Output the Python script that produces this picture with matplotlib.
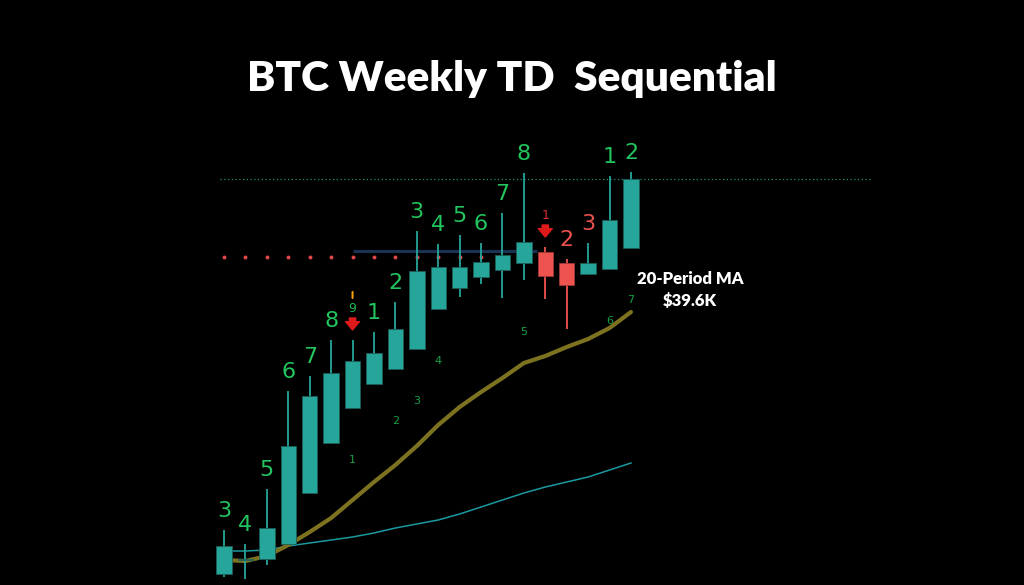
import numpy as np
import matplotlib
matplotlib.use("Agg")
import matplotlib.pyplot as plt

# weekly candles, prices in $K
opens  = [26.5, 27.2, 27.25, 28.0, 30.55, 33.05, 34.8, 36.0, 36.75, 37.75,
          39.75, 40.8, 41.35, 41.7, 42.05, 42.6, 42.05, 41.5, 41.75, 42.8]
highs  = [28.7, 28.0, 30.75, 35.65, 36.4, 38.2, 38.2, 38.6, 40.1, 43.65,
          43.0, 43.45, 43.05, 44.55, 46.55, 42.85, 42.25, 43.05, 46.4, 46.6]
lows   = [26.35, 26.25, 26.95, 28.0, 30.55, 33.05, 34.8, 36.0, 36.75, 37.75,
          39.75, 40.35, 41.0, 40.3, 41.2, 40.25, 38.75, 41.45, 41.75, 42.8]
closes = [27.9, 27.25, 28.8, 32.9, 35.4, 36.55, 37.15, 37.55, 38.75, 41.65,
          41.85, 41.85, 42.1, 42.45, 43.1, 41.4, 40.95, 42.05, 44.2, 46.25]

ma20 = [27.2, 27.15, 27.4, 27.95, 28.6, 29.3, 30.2, 31.1, 31.95, 32.9,
        33.95, 34.85, 35.6, 36.3, 37.05, 37.4, 37.85, 38.25, 38.8, 39.6]
ma50 = [27.65, 27.65, 27.7, 27.9, 28.05, 28.2, 28.35, 28.55, 28.8, 29.0,
        29.2, 29.5, 29.85, 30.2, 30.55, 30.85, 31.1, 31.35, 31.7, 32.05]

# TD setup counts above the bars
setup_labels = ['3', '4', '5', '6', '7', '8', '9', '1', '2', '3',
                '4', '5', '6', '7', '8', '1', '2', '3', '1', '2']
setup_side = ['buy'] * 15 + ['sell'] * 3 + ['buy'] * 2
perfect_idx = [6, 15]        # small label + arrow
# TD countdown below the bars
countdown_idx = [6, 8, 9, 10, 14, 18, 19]
countdown_lbl = ['1', '2', '3', '4', '5', '6', '7']

tdst_red = 42.35            # red dotted level
tdst_red_range = (0, 12)
tdst_blue = 42.65
tdst_blue_range = (6, 14.6)
top_level = 46.25
top_range = (-0.2, 30.2)

ma_note = ['20-Period MA', '$39.6K']

teal = '#26a69a'
red = '#ef5350'
green = '#22c55e'

fig = plt.figure(figsize=(10.24, 5.85), dpi=100, facecolor='black')
ax = fig.add_axes([0, 0, 1, 1])
ax.set_facecolor('black')
ax.set_axis_off()

x = np.arange(len(opens))
ax.set_xlim(-10.46, 37.35)
# y pixel -> price: price = 55.2 - y/20
ax.set_ylim(55.2 - 585 / 20, 55.2)

ax.hlines(top_level, *top_range, colors='#1f8a78', linestyles=(0, (1, 2)), lw=0.9)
ax.hlines(tdst_blue, *tdst_blue_range, colors='#1b3352', lw=2.2, zorder=1)
ax.scatter(np.arange(tdst_red_range[0], tdst_red_range[1] + 1),
           [tdst_red] * (tdst_red_range[1] - tdst_red_range[0] + 1),
           s=8, color='#e04848', lw=0, zorder=1)

ax.plot(x, ma50, color='#1a9aa0', lw=1.1, zorder=2)
ax.plot(x, ma20, color='#7d7220', lw=3, zorder=2, solid_capstyle='round',
        solid_joinstyle='round')

w = 0.72
for i in x:
    o, h, l, c = opens[i], highs[i], lows[i], closes[i]
    col = teal if c >= o else red
    ax.vlines(i, l, h, color=col, lw=1.3, zorder=3)
    bottom = min(o, c)
    height = max(abs(c - o), 0.05)
    ax.bar(i, height, w, bottom=bottom, color=col,
           edgecolor='#1e5e58' if col == teal else '#a03a38', lw=0.6, zorder=4)

px = 0.72  # points per pixel at dpi 100
for i, lbl in enumerate(setup_labels):
    col = green if setup_side[i] == 'buy' else red
    if i in perfect_idx:
        ax.annotate(lbl, (i, highs[i]), xytext=(0, 31 * px), textcoords='offset points',
                    ha='center', va='center', fontsize=9,
                    color='#1db954' if col == green else '#e03030')
        ax.annotate('', (i, highs[i]), xytext=(0, 22 * px), textcoords='offset points',
                    arrowprops=dict(arrowstyle='simple,head_width=1.0,head_length=0.6,tail_width=0.45',
                                    color='#e01a1a', shrinkA=0, shrinkB=10 * px), zorder=5)
        continue
    ax.annotate(lbl, (i, highs[i]), xytext=(0, 19 * px), textcoords='offset points',
                ha='center', va='center', fontsize=16, color=col)

# orange mark over the perfected 9
ax.annotate('', (perfect_idx[0], highs[perfect_idx[0]]), xytext=(0, 48 * px),
            textcoords='offset points',
            arrowprops=dict(arrowstyle='-', color='#f5a00b', lw=1.5, shrinkA=0, shrinkB=42 * px))

for i, lbl in zip(countdown_idx, countdown_lbl):
    ax.annotate(lbl, (i, lows[i]), xytext=(0, -52 * px), textcoords='offset points',
                ha='center', va='center', fontsize=8, color='#17a047')

ax.annotate(ma_note[0], (19, ma20[19]), xytext=(59 * px, 33 * px), textcoords='offset points',
            ha='center', va='center', fontsize=12, fontweight='heavy', color='white', family='Lato')
ax.annotate(ma_note[1], (19, ma20[19]), xytext=(59 * px, 11 * px), textcoords='offset points',
            ha='center', va='center', fontsize=12, fontweight='heavy', color='white', family='Lato')

fig.text(0.5, 1 - 79 / 585, 'BTC Weekly TD  Sequential', ha='center', va='center',
         fontsize=30.5, fontweight='heavy', color='white', family='Lato')

fig.savefig('out.png', dpi=100, facecolor='black')
